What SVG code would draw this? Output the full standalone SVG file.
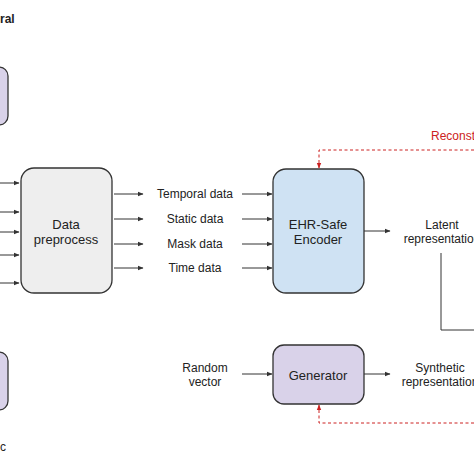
<svg xmlns="http://www.w3.org/2000/svg" width="474" height="474" viewBox="0 0 474 474">
<defs>
<marker id="ah" markerWidth="6" markerHeight="6" refX="5" refY="3" orient="auto" markerUnits="userSpaceOnUse">
<path d="M0,0.8 L5.5,3 L0,5.2 Z" fill="#333"/>
</marker>
<marker id="ahr" markerWidth="6" markerHeight="6" refX="5" refY="3" orient="auto" markerUnits="userSpaceOnUse">
<path d="M0,0.8 L5.5,3 L0,5.2 Z" fill="#cc2222"/>
</marker>
<style>
text{font-family:"Liberation Sans",Arial,sans-serif;fill:#222;font-size:12px}
.big{font-size:13px}
.box{stroke:#333;stroke-width:1.3}
.ln{stroke:#333;stroke-width:1;fill:none}
.arr{stroke:#333;stroke-width:1;fill:none;marker-end:url(#ah)}
.dash{stroke:#cc2222;stroke-width:1;fill:none;stroke-dasharray:3,2.5}
</style>
</defs>
<rect width="474" height="474" fill="#fff"/>
<g id="top-left-label"><text x="0" y="23" font-weight="bold">ral</text></g>
<g id="top-left-box"><rect class="box" x="-30" y="67" width="38" height="58" rx="9" fill="#d9d2e9"/></g>
<g id="bottom-left-box"><rect class="box" x="-30" y="352" width="38" height="58" rx="9" fill="#d9d2e9"/></g>
<g id="bottom-left-label"><text x="0" y="451">c</text></g>
<g id="preprocess">
<rect class="box" x="21" y="168" width="91" height="125" rx="13" fill="#eeeeee"/>
<text class="big" x="66" y="229" text-anchor="middle">Data</text>
<text class="big" x="66" y="244" text-anchor="middle">preprocess</text>
</g>
<g id="data-labels">
<text x="195" y="198" text-anchor="middle">Temporal data</text>
<text x="195" y="223" text-anchor="middle">Static data</text>
<text x="195" y="248" text-anchor="middle">Mask data</text>
<text x="195" y="272" text-anchor="middle">Time data</text>
</g>
<g id="encoder">
<rect class="box" x="273" y="169" width="91" height="124" rx="13" fill="#cfe2f3"/>
<text class="big" x="318" y="229" text-anchor="middle">EHR-Safe</text>
<text class="big" x="318" y="244" text-anchor="middle">Encoder</text>
</g>
<g id="latent">
<text x="442" y="229" text-anchor="middle">Latent</text>
<text x="442" y="243" text-anchor="middle">representation</text>
</g>
<g id="generator">
<rect class="box" x="273" y="345" width="91" height="59" rx="11" fill="#d9d2e9"/>
<text class="big" x="318" y="380" text-anchor="middle">Generator</text>
</g>
<g id="random"><text x="205" y="372" text-anchor="middle">Random</text><text x="205" y="386" text-anchor="middle">vector</text></g>
<g id="synthetic"><text x="440" y="372" text-anchor="middle">Synthetic</text><text x="440" y="386" text-anchor="middle">representation</text></g>
<g id="recon-label"><text x="431" y="140" style="fill:#cc2222">Reconst</text></g>
<g id="connectors">
<path class="arr" d="M0,183 H19"/>
<path class="arr" d="M0,212 H19"/>
<path class="arr" d="M0,232 H19"/>
<path class="arr" d="M0,255 H19"/>
<path class="arr" d="M0,283 H19"/>
<path class="arr" d="M114,194 H143"/>
<path class="arr" d="M114,219 H143"/>
<path class="arr" d="M114,244 H143"/>
<path class="arr" d="M114,268 H143"/>
<path class="arr" d="M242,194 H272"/>
<path class="arr" d="M242,219 H272"/>
<path class="arr" d="M242,244 H272"/>
<path class="arr" d="M242,268 H272"/>
<path class="arr" d="M364,231 H390"/>
<path class="arr" d="M242,374 H272"/>
<path class="arr" d="M364,374 H390"/>
<path class="ln" d="M441,253 V330 H474"/>
<path class="dash" d="M474,150 H319 V168" marker-end="url(#ahr)"/>
<path class="dash" d="M474,423 H319 V405" marker-end="url(#ahr)"/>
</g>
</svg>
